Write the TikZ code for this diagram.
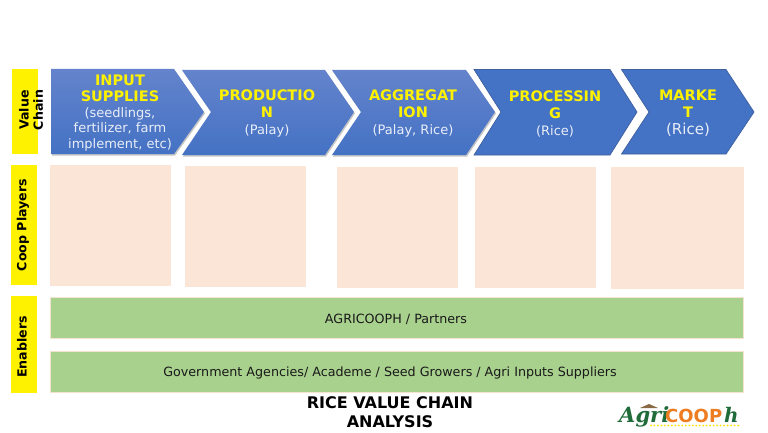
\documentclass[tikz,border=0pt]{standalone}
\usepackage{fontspec}
\setmainfont{DejaVu Sans}
\newfontfamily\logoserif{DejaVu Serif}
\usetikzlibrary{shadows}
\definecolor{chevblue}{HTML}{4472C4}
\definecolor{chevtop}{HTML}{6483CC}
\definecolor{chevedge}{HTML}{3F5F9F}
\definecolor{peach}{HTML}{FBE5D6}
\definecolor{leaf}{HTML}{A9D18E}
\definecolor{leafedge}{HTML}{F3E3CF}
\definecolor{logogreen}{HTML}{1F6B3A}
\definecolor{logoorange}{HTML}{EE7D22}
\definecolor{logoroof}{HTML}{8A6A45}
\tikzset{
  x=1pt,y=-1pt,
  sidebar/.style={fill=yellow,draw=none},
  sidelabel/.style={rotate=90,font=\fontsize{12.6}{14.3}\selectfont\bfseries,align=center,text=black},
  playerbox/.style={fill=peach,draw=none},
  enablerbox/.style={fill=leaf,draw=leafedge,line width=1pt},
  flatchev/.style={fill=chevblue,draw=chevedge,line width=.7pt},
  glowchev/.style={top color=chevtop,bottom color=chevblue,draw=none,
    drop shadow={shadow xshift=1pt,shadow yshift=-1.5pt,fill=black!45,opacity=.5}},
  chevtext/.style={align=center,text=white!88!chevblue,font=\fontsize{13}{15.5}\selectfont},
  enablertext/.style={font=\fontsize{12.7}{15}\selectfont,text=black!90},
  titletext/.style={align=center,font=\fontsize{16}{18.5}\selectfont\bfseries,text=black}
}
\newcommand{\chevhd}[1]{{\fontsize{14.5}{17}\selectfont\bfseries\color{yellow}#1}}
\begin{document}
\begin{tikzpicture}
\useasboundingbox (0,0) rectangle (768,433);
\fill[white] (0,0) rectangle (768,433);
% side labels
\fill[sidebar] (12,69) rectangle (38,154);
\fill[sidebar] (11,165) rectangle (37,285);
\fill[sidebar] (11,296) rectangle (37,393);
\node[sidelabel] (vc) at (31,110) {Value\\Chain};
\node[sidelabel] (cp) at (23,225) {Coop Players};
\node[sidelabel] (en) at (22,347) {Enablers};
% flat chevrons
\draw[flatchev] (621.5,69.5) -- (726,69.5) -- (754,112) -- (726,154) -- (621.5,154) -- (649,112) -- cycle;
\draw[flatchev] (474,69.5) -- (610,69.5) -- (637,112) -- (610,155) -- (474,155) -- (501,112) -- cycle;
% shaded chevrons
\path[glowchev] (332,70) -- (466,70) -- (495,112) -- (466,155) -- (332,155) -- (361,112) -- cycle;
\path[glowchev] (182,70) -- (325,70) -- (354,112) -- (325,155) -- (182,155) -- (211,112) -- cycle;
\path[glowchev] (51,69) -- (174,69) -- (204,112) -- (174,154) -- (51,154) -- cycle;
% chevron text
\node[chevtext] (c1) at (120,113) {\chevhd{INPUT}\\[.8pt]\chevhd{SUPPLIES}\\(seedlings,\\fertilizer, farm\\implement, etc)};
\node[chevtext] (c2) at (267,113.5) {\chevhd{PRODUCTIO}\\[1.5pt]\chevhd{N}\\[1pt](Palay)};
\node[chevtext] (c3) at (413,113.5) {\chevhd{AGGREGAT}\\[1.5pt]\chevhd{ION}\\[1pt](Palay, Rice)};
\node[chevtext] (c4) at (555,114) {\chevhd{PROCESSIN}\\[1.5pt]\chevhd{G}\\[1pt](Rice)};
\node[chevtext,font=\fontsize{15}{17}\selectfont] (c5) at (688,113) {\chevhd{MARKE}\\[.5pt]\chevhd{T}\\(Rice)};
% player boxes
\fill[playerbox] (50,165) rectangle (171,286);
\fill[playerbox] (185,166) rectangle (306,287);
\fill[playerbox] (337,167) rectangle (458,288);
\fill[playerbox] (475,167) rectangle (596,288);
\fill[playerbox] (611,167) rectangle (744,289);
% enablers
\draw[enablerbox] (50,297) rectangle (743,338);
\draw[enablerbox] (50,351) rectangle (743,392);
\node[enablertext] (e1) at (396,319.5) {AGRICOOPH / Partners};
\node[enablertext] (e2) at (390,372.5) {Government Agencies/ Academe / Seed Growers / Agri Inputs Suppliers};
% title
\node[titletext] (title) at (390,412) {RICE VALUE CHAIN\\ANALYSIS};
% logo
\fill[logoroof] (640,408) -- (649,404) -- (658,408) -- cycle;
\node[anchor=base west,inner sep=0pt,text=logogreen,font=\logoserif\fontsize{21}{21}\selectfont\bfseries\itshape] (agri) at (619,422) {Agri};
\node[anchor=base west,inner sep=0pt,text=logoorange,font=\fontsize{18}{18}\selectfont\bfseries] (coop) at (665,422) {COOP};
\node[anchor=base west,inner sep=0pt,text=logogreen,font=\logoserif\fontsize{20}{20}\selectfont\bfseries\itshape] (ph) at (724,422) {h};
\foreach \i in {0,...,25} \fill[yellow!85!orange] (651+\i*3.48,425.5) circle (1);
\end{tikzpicture}
\end{document}
